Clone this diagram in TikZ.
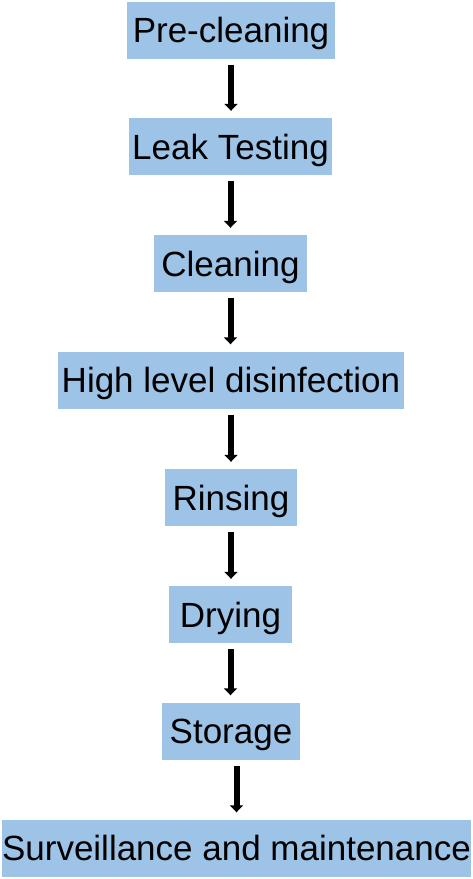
\documentclass[tikz,border=0pt]{standalone}
\usepackage{fontspec}
\setmainfont{Liberation Sans}
\usetikzlibrary{arrows.meta}
\definecolor{boxblue}{HTML}{9DC3E6}
\tikzset{
  stepbox/.style={fill=boxblue, draw=none, inner sep=0pt, minimum height=57pt,
    text height=25pt, text depth=0pt, font=\fontsize{35pt}{42pt}\selectfont},
  flowarrow/.style={line width=6pt, -{Triangle[width=13pt,length=7pt]},
    shorten <=6pt, shorten >=7pt}
}
\begin{document}
\begin{tikzpicture}[x=1pt,y=1pt]
\useasboundingbox (0,0) rectangle (472,-879);
\node[stepbox, minimum width=208pt] (pre) at (231,-30) {Pre-cleaning};
\node[stepbox, minimum width=203pt] (leak) at (230.5,-146.5) {Leak Testing};
\node[stepbox, minimum width=153pt] (clean) at (230.5,-263.5) {Cleaning};
\node[stepbox, minimum width=346pt] (hld) at (231,-380) {High level disinfection};
\node[stepbox, minimum width=132pt] (rinse) at (231,-497.5) {Rinsing};
\node[stepbox, minimum width=123pt] (dry) at (230.5,-614.5) {Drying};
\node[stepbox, minimum width=138pt] (store) at (231,-731) {Storage};
\node[stepbox, minimum width=463pt] (surv) at (236.5,-848) {Surveillance and maintenance};
\draw[flowarrow] (pre.south) -- (pre.south |- leak.north);
\draw[flowarrow] (leak.south) -- (leak.south |- clean.north);
\draw[flowarrow] (clean.south) -- (clean.south |- hld.north);
\draw[flowarrow] (hld.south) -- (hld.south |- rinse.north);
\draw[flowarrow] (rinse.south) -- (rinse.south |- dry.north);
\draw[flowarrow] (dry.south) -- (dry.south |- store.north);
\draw[flowarrow] (surv.north |- store.south) -- (surv.north);
\end{tikzpicture}
\end{document}
